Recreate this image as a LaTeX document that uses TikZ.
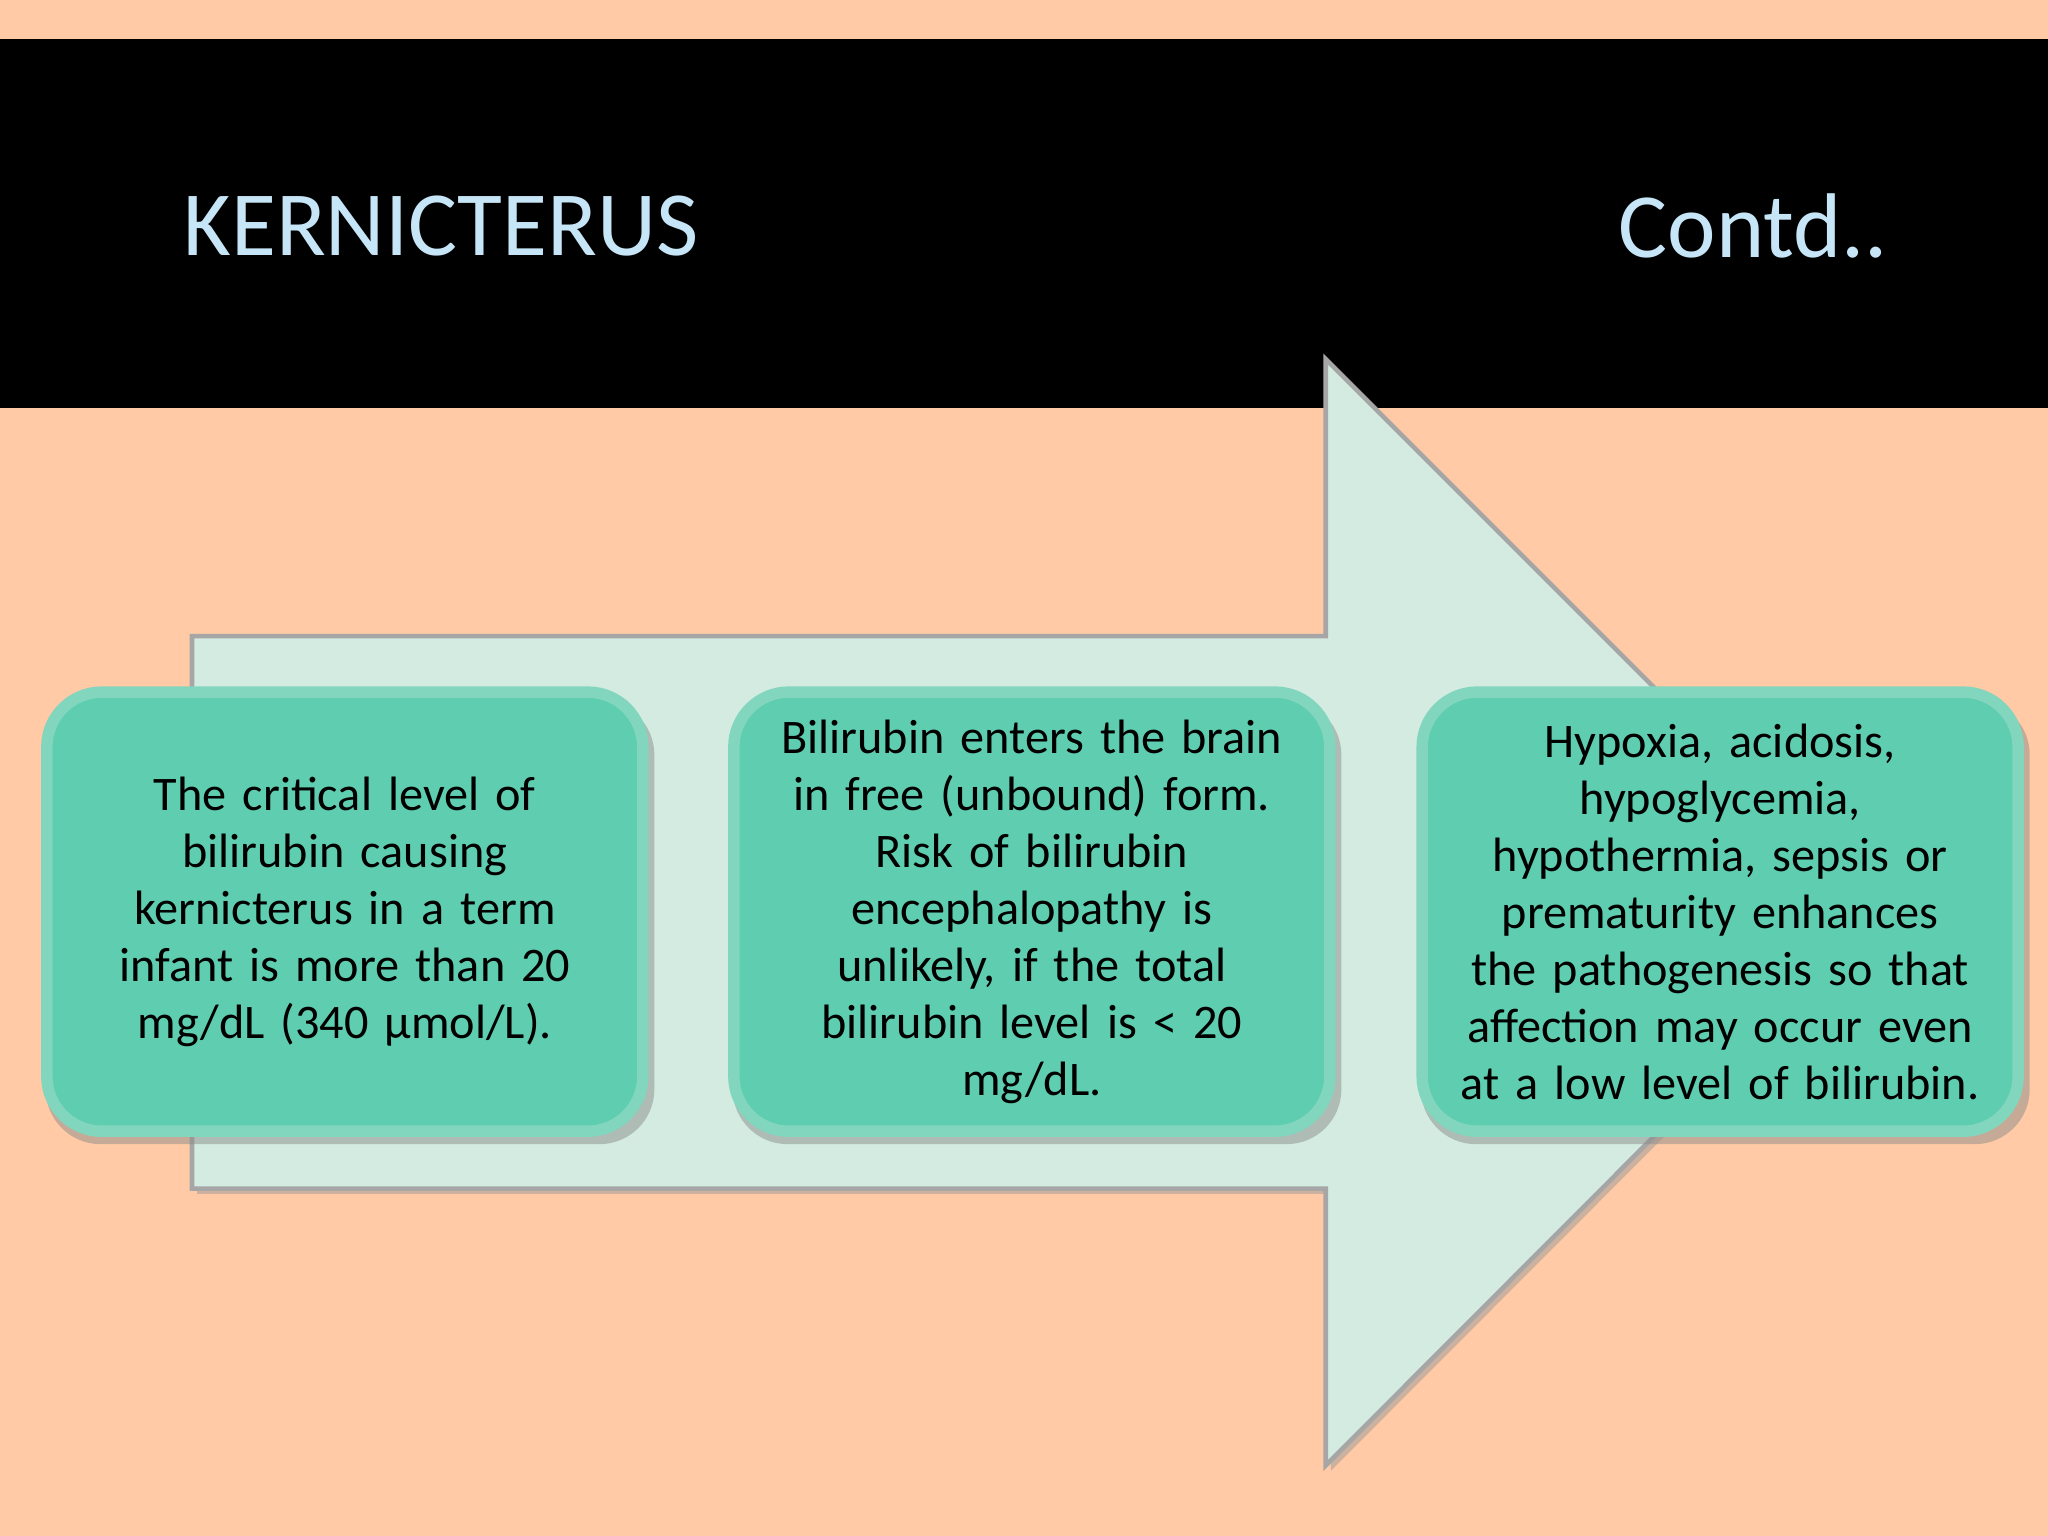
\documentclass[tikz,border=0pt]{standalone}
\usepackage{fontspec}
\setmainfont{Carlito}
\begin{document}
\begin{tikzpicture}[x=0.01cm,y=-0.01cm,
  box/.style={draw={rgb,255:red,130;green,214;blue,190}, line width=2.5pt, fill={rgb,255:red,94;green,205;blue,176}, rounded corners=0.42cm, minimum width=4.56cm, minimum height=3.36cm, text width=4.4cm, align=center, font=\fontsize{10.5}{12.4}\selectfont, inner sep=0pt},
  shadow/.style={fill=black!45, rounded corners=0.42cm, opacity=0.5},
  ttl/.style={text={rgb,255:red,198;green,230;blue,248}, font=\fontsize{20}{24}\selectfont}]
\fill[fill={rgb,255:red,255;green,202;blue,165}] (0,0) rectangle (1568,1176);
\fill[black] (0,30) rectangle (1568,312);
\node[anchor=west, ttl] (t1) at (128,173) {KERNICTERUS};
\node[anchor=east, ttl] (t2) at (1458,173) {Contd..};
% arrow
\fill[black!40, opacity=0.5] (151,491) -- (1019,491) -- (1019,279) -- (1442,702) -- (1019,1126) -- (1019,914) -- (151,914) -- cycle;
\draw[fill={rgb,255:red,211;green,235;blue,224}, draw=black!35, line width=1pt] (147,487) -- (1015,487) -- (1015,275) -- (1438,698) -- (1015,1122) -- (1015,910) -- (147,910) -- cycle;
% boxes
\foreach \x in {264,790,1317} \fill[shadow] (\x-229,536) rectangle (\x+237,876);
\node[box] (b1) at (264,698) {The critical level of\\ bilirubin causing\\ kernicterus in a term\\ infant is more than 20\\ mg/dL (340 µmol/L).};
\node[box] (b2) at (790,698) {Bilirubin enters the brain\\ in free (unbound) form.\\ Risk of bilirubin\\ encephalopathy is\\ unlikely, if the total\\ bilirubin level is < 20\\ mg/dL.};
\node[box] (b3) at (1317,698) {Hypoxia, acidosis,\\ hypoglycemia,\\ hypothermia, sepsis or\\ prematurity enhances\\ the pathogenesis so that\\ affection may occur even\\ at a low level of bilirubin.};
\end{tikzpicture}
\end{document}
